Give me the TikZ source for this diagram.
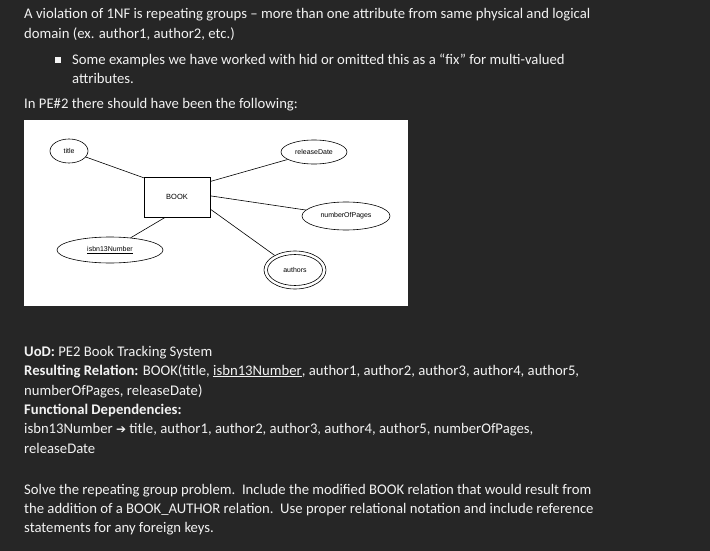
\documentclass[tikz,border=0pt]{standalone}
\usepackage{fontspec}
\setmainfont{Carlito}
\newfontfamily\diag{Liberation Sans}
\newfontfamily\djv{DejaVu Sans}
\usetikzlibrary{shapes.geometric}
\definecolor{bg}{HTML}{262626}
\definecolor{fg}{HTML}{F2F2F2}
\begin{document}
\begin{tikzpicture}[x=1pt,y=-1pt,
  txt/.style={anchor=base west,inner sep=0pt,text=fg,font=\fontsize{14.7}{17}\selectfont},
  attr/.style={ellipse,draw=black,fill=white,inner sep=0pt,font=\diag\fontsize{7}{8}\selectfont,line width=0.6pt},
  ln/.style={draw=black,line width=0.6pt}]
\fill[bg] (0,0) rectangle (710,551);
\useasboundingbox (0,0) rectangle (710,551);
\node[txt] (l1) at (24,19) {A violation of 1NF is repeating groups -- more than one attribute from same physical and logical};
\node[txt] (l2) at (24,39) {domain (ex. author1, author2, etc.)};
\node[txt] (b1) at (72,65) {Some examples we have worked with hid or omitted this as a “fix” for multi-valued};
\fill[fg!80] (55,57) rectangle (61,63);
\node[txt] (b2) at (72,84) {attributes.};
\node[txt] (l3) at (24,109) {In PE\#2 there should have been the following:};
\fill[white] (24,120) rectangle (408,306);
\node[draw=black,fill=white,minimum width=66pt,minimum height=40pt,inner sep=0pt,font=\diag\fontsize{7.5}{8}\selectfont,line width=0.6pt] (book) at (177,197) {BOOK};
\node[attr,minimum width=38pt,minimum height=24pt] (title) at (69,151) {title};
\node[attr,minimum width=66pt,minimum height=24pt] (rel) at (314,152) {releaseDate};
\node[attr,minimum width=88pt,minimum height=28pt] (nop) at (346,216) {numberOfPages};
\node[attr,minimum width=106pt,minimum height=26pt] (isbn) at (110,250) {\underline{isbn13Number}};
\node[attr,minimum width=62pt,minimum height=38pt] (authO) at (295,270) {};
\node[attr,minimum width=55pt,minimum height=31pt] (auth) at (295,270) {authors};
\draw[ln] (title) -- (book.150);
\draw[ln] (rel) -- (book.25);
\draw[ln] (nop) -- (book.2);
\draw[ln] (isbn) -- (book.-120);
\draw[ln] (authO) -- (book.-20);
\node[txt] (u1) at (24,356) {\textbf{UoD:} PE2 Book Tracking System};
\node[txt] (u2) at (24,375) {\textbf{Resulting Relation:} BOOK(title, \underline{isbn13Number}, author1, author2, author3, author4, author5,};
\node[txt] (u3) at (24,395) {numberOfPages, releaseDate)};
\node[txt] (u4) at (24,414) {\textbf{Functional Dependencies:}};
\node[txt] (u5) at (24,433) {isbn13Number {\djv\fontsize{12}{14}\selectfont\bfseries ➔} title, author1, author2, author3, author4, author5, numberOfPages,};
\node[txt] (u6) at (24,453) {releaseDate};
\node[txt] (s1) at (24,494) {Solve the repeating group problem.\ \ Include the modified BOOK relation that would result from};
\node[txt] (s2) at (24,513) {the addition of a BOOK\_AUTHOR relation.\ \ Use proper relational notation and include reference};
\node[txt] (s3) at (24,532) {statements for any foreign keys.};
\end{tikzpicture}
\end{document}
